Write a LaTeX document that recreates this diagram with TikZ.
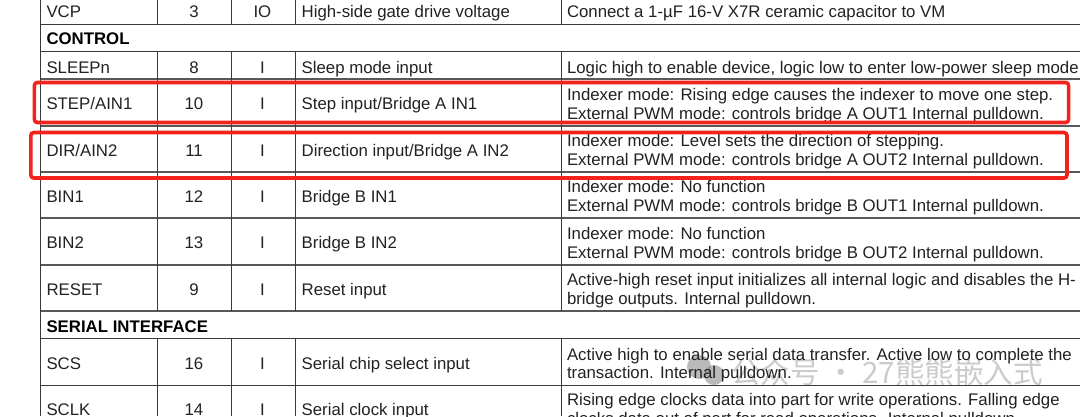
\documentclass[tikz,border=0pt]{standalone}
\usepackage{fontspec}
\setmainfont{Liberation Sans}
\newfontfamily\cjkwm{Noto Sans CJK SC}
\definecolor{ink}{HTML}{222222}
\definecolor{rule}{HTML}{3A3A3A}
\definecolor{mark}{HTML}{F5211B}
\definecolor{wm}{HTML}{8C8C8C}
\tikzset{
  cell/.style={anchor=base west,inner sep=0pt,outer sep=0pt,text=ink,font=\fontsize{16.8}{19}\selectfont},
  mid/.style={anchor=base,inner sep=0pt,outer sep=0pt,text=ink,font=\fontsize{16.8}{19}\selectfont},
  head/.style={cell,font=\fontsize{16.8}{19}\selectfont\bfseries,text=black},
  hrule/.style={draw=rule,line width=1pt},
  grule/.style={draw=rule!85,line width=1.3pt},
  vrule/.style={draw=rule,line width=0.9pt},
  redbox/.style={draw=mark,line width=3.6pt,rounded corners=3pt},
  wmark/.style={anchor=base west,inner sep=0pt,text=wm,opacity=.45,font=\fontsize{29.5}{32}\selectfont\cjkwm}
}
\begin{document}
\begin{tikzpicture}[x=1pt,y=-1pt]
\useasboundingbox (0,0) rectangle (1080,416);
\clip (0,0) rectangle (1080,416);
\fill[white] (0,0) rectangle (1080,416);
% watermark (beneath the table text)
\fill[wm,opacity=.6] (699,367) circle (12);
\fill[wm,opacity=.6] (714,375) circle (10);
\node[wmark] (wmk) at (731,383) {公众号 · 27熊熊嵌入式};
% horizontal rules
\foreach \y in {24,51.5,338,385} \draw[hrule] (40.6,\y) -- (1080,\y);
\foreach \y in {79,126,172,218,265,311} \draw[grule] (40.6,\y) -- (1080,\y);
% vertical rules
\draw[vrule] (40.6,0) -- (40.6,416);
\foreach \x in {157.4,231.4,295.5,561.4} {
  \draw[vrule] (\x,0) -- (\x,24);
  \draw[vrule] (\x,51.5) -- (\x,311);
  \draw[vrule] (\x,338) -- (\x,416);
}
% section heads
\node[head] (hctl) at (46.5,44) {CONTROL};
\node[head] (hser) at (46.5,332) {SERIAL INTERFACE};
% rows
\node[cell] (a1) at (46.5,17) {VCP};      \node[mid] (b1) at (194,17) {3};  \node[mid] (c1) at (262.4,17) {IO};
\node[cell] (d1) at (301.7,17) {High-side gate drive voltage};
\node[cell] (e1) at (567,17) {Connect a 1-µF 16-V X7R ceramic capacitor to VM};
\node[cell] (a2) at (46.5,73) {SLEEPn};   \node[mid] (b2) at (194,73) {8};  \node[mid] (c2) at (262.4,73) {I};
\node[cell] (d2) at (301.7,73) {Sleep mode input};
\node[cell] (e2) at (567,73) {Logic high to enable device, logic low to enter low-power sleep mode};
\node[cell] (a3) at (46.5,109) {STEP/AIN1}; \node[mid] (b3) at (194,109) {10}; \node[mid] (c3) at (262.4,109) {I};
\node[cell] (d3) at (301.7,109) {Step input/Bridge A IN1};
\node[cell] (e3) at (567,100) {Indexer mode: Rising edge causes the indexer to move one step.};
\node[cell] (f3) at (567,119) {External PWM mode: controls bridge A OUT1 Internal pulldown.};
\node[cell] (a4) at (46.5,156) {DIR/AIN2}; \node[mid] (b4) at (194,156) {11}; \node[mid] (c4) at (262.4,156) {I};
\node[cell] (d4) at (301.7,156) {Direction input/Bridge A IN2};
\node[cell] (e4) at (567,146) {Indexer mode: Level sets the direction of stepping.};
\node[cell] (f4) at (567,165) {External PWM mode: controls bridge A OUT2 Internal pulldown.};
\node[cell] (a5) at (46.5,202) {BIN1}; \node[mid] (b5) at (194,202) {12}; \node[mid] (c5) at (262.4,202) {I};
\node[cell] (d5) at (301.7,202) {Bridge B IN1};
\node[cell] (e5) at (567,192) {Indexer mode: No function};
\node[cell] (f5) at (567,211) {External PWM mode: controls bridge B OUT1 Internal pulldown.};
\node[cell] (a6) at (46.5,248) {BIN2}; \node[mid] (b6) at (194,248) {13}; \node[mid] (c6) at (262.4,248) {I};
\node[cell] (d6) at (301.7,248) {Bridge B IN2};
\node[cell] (e6) at (567,239) {Indexer mode: No function};
\node[cell] (f6) at (567,258) {External PWM mode: controls bridge B OUT2 Internal pulldown.};
\node[cell] (a7) at (46.5,295) {RESET}; \node[mid] (b7) at (194,295) {9}; \node[mid] (c7) at (262.4,295) {I};
\node[cell] (d7) at (301.7,295) {Reset input};
\node[cell] (e7) at (567,285) {Active-high reset input initializes all internal logic and disables the H-};
\node[cell] (f7) at (567,304) {bridge outputs. Internal pulldown.};
\node[cell] (a8) at (46.5,369) {SCS}; \node[mid] (b8) at (194,369) {16}; \node[mid] (c8) at (262.4,369) {I};
\node[cell] (d8) at (301.7,369) {Serial chip select input};
\node[cell] (e8) at (567,360) {Active high to enable serial data transfer. Active low to complete the};
\node[cell] (f8) at (567,378) {transaction. Internal pulldown.};
\node[cell] (a9) at (46.5,415) {SCLK}; \node[mid] (b9) at (194,415) {14}; \node[mid] (c9) at (262.4,415) {I};
\node[cell] (d9) at (301.7,415) {Serial clock input};
\node[cell] (e9) at (567,405) {Rising edge clocks data into part for write operations. Falling edge};
\node[cell] (f9) at (567,424) {clocks data out of part for read operations. Internal pulldown.};
% red highlight boxes
\draw[redbox] (34.4,82.5) rectangle (1068.6,122.5);
\draw[redbox] (30.8,132.5) rectangle (1067,178);
\end{tikzpicture}
\end{document}
